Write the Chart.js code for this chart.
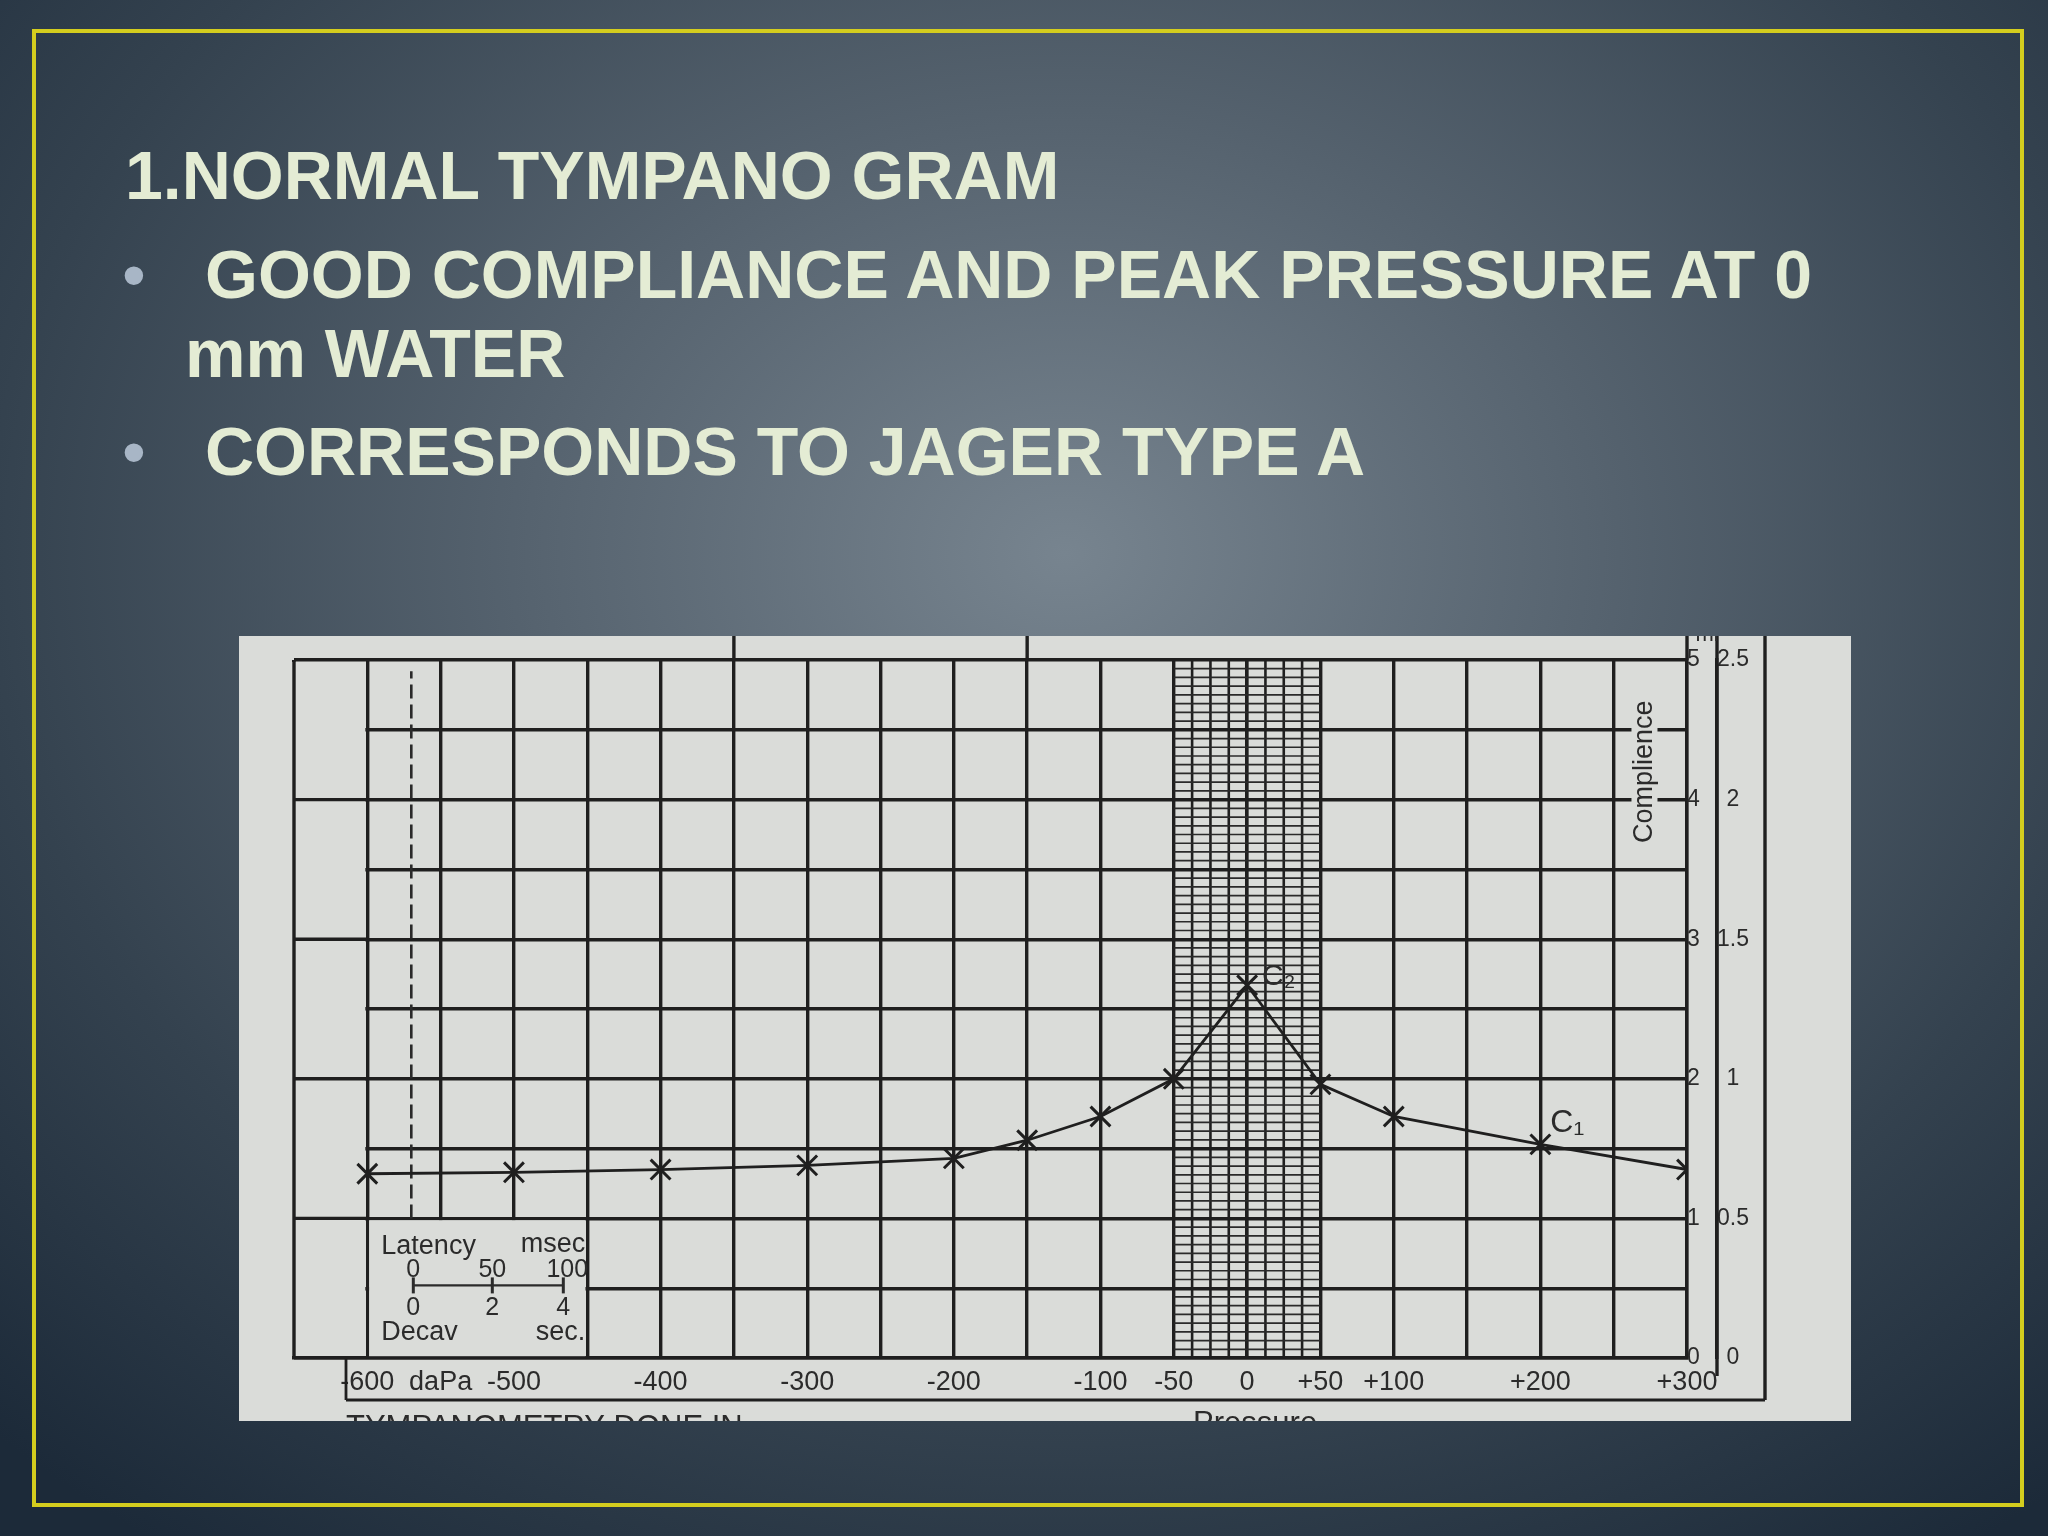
<!DOCTYPE html>
<html>
<head>
<meta charset="utf-8">
<title>Normal tympanogram</title>
<script src="https://cdn.jsdelivr.net/npm/chart.js@4.4.0/dist/chart.umd.min.js"></script>
<style>
  html, body { margin: 0; padding: 0; }
  body {
    width: 2048px; height: 1536px; position: relative; overflow: hidden;
    background: radial-gradient(ellipse 75% 80% at 52% 36%, #77848f 0%, #56636f 35%, #34424f 70%, #1c2a39 100%);
    font-family: "Liberation Sans", Arial, sans-serif;
  }
  .frame {
    position: absolute; left: 32px; top: 29px; width: 1992px; height: 1478px;
    box-sizing: border-box; border: 4px solid #d4cd1e;
  }
  .t {
    position: absolute; font-weight: bold; font-size: 68px; line-height: 1;
    color: #e4ecd4; white-space: nowrap;
  }
  .dot { color: #a8b6c6; font-weight: normal; }
  #wrap { position: absolute; left: 239px; top: 636px; width: 1612px; height: 785px; }
</style>
</head>
<body>
<div class="frame"></div>
<div class="t" style="left:125px; top:141px;">1.NORMAL TYMPANO GRAM</div>
<div class="t dot" style="left:122px; top:240px;">•</div>
<div class="t" style="left:205px; top:240px;">GOOD COMPLIANCE AND PEAK PRESSURE AT 0</div>
<div class="t" style="left:185px; top:319px;">mm WATER</div>
<div class="t dot" style="left:122px; top:417px;">•</div>
<div class="t" style="left:205px; top:417px;">CORRESPONDS TO JAGER TYPE A</div>

<div id="wrap"><canvas id="tymp"></canvas></div>

<script>
// tympanogram readings (pressure in daPa, compliance on the 0-5 scale)
const pressure = [-600, -500, -400, -300, -200, -150, -100, -50, 0, 50, 100, 200, 300];
const compliance = [1.32, 1.33, 1.35, 1.38, 1.43, 1.56, 1.73, 2.0, 2.67, 1.96, 1.73, 1.53, 1.35];

// printed labels under the grid
const tickValues = [-600, -550, -500, -400, -300, -200, -100, -50, 0, 50, 100, 200, 300];
const tickLabels = ['-600', 'daPa', '-500', '-400', '-300', '-200', '-100', '-50', '0', '+50', '+100', '+200', '+300'];

// C1 / C2 marks on the curve
const markAt = [0, 200];
const markNames = ['C\u2082', 'C\u2081'];

// dashed latency marker
const dashX = -570;
const dashY = [1, 4.92];

const PAPER = '#dadcd9';
const INK = '#1f1f1f';
const TXT = '#2b2b2b';
const GRID_W = 3.4;
const NARROW = '"Liberation Sans Narrow", "Arial Narrow", "Liberation Sans", Arial, sans-serif';

const paperMarks = {
  id: 'paperMarks',
  beforeDraw(chart) {
    const ctx = chart.ctx;
    ctx.save();
    ctx.fillStyle = PAPER;
    ctx.fillRect(0, 0, chart.width, chart.height);
    ctx.restore();
  },
  beforeDatasetsDraw(chart) {
    const { ctx, chartArea: a, scales: { x, y, y2 } } = chart;
    const line = (x1, y1, x2, y2_, w) => {
      ctx.lineWidth = w;
      ctx.beginPath(); ctx.moveTo(x1, y1); ctx.lineTo(x2, y2_); ctx.stroke();
    };
    ctx.save();
    ctx.strokeStyle = INK;

    // left margin column only keeps whole-unit lines
    const c0 = x.getPixelForValue(-650), c1 = x.getPixelForValue(-600);
    ctx.fillStyle = PAPER;
    ctx.fillRect(c0 - 4, a.top + 2, c1 - c0 + 2, a.bottom - a.top - 4);
    line(c0, a.top, c0, a.bottom, GRID_W);
    [1, 2, 3, 4].forEach(v => line(c0, y.getPixelForValue(v), c1, y.getPixelForValue(v), GRID_W));

    // latency / decay box
    const bx = c1, by = y.getPixelForValue(1), bx2 = x.getPixelForValue(-450), by2 = y.getPixelForValue(0);
    ctx.fillRect(bx + 1.8, by + 1.8, bx2 - bx - 3.6, by2 - by - 3.6);
    ctx.fillStyle = TXT;
    ctx.textBaseline = 'alphabetic';
    ctx.font = '27px ' + NARROW;
    ctx.textAlign = 'left';
    ctx.fillText('Latency', bx + 14, by + 36);
    ctx.fillText('Decav', bx + 14, by + 122);
    ctx.textAlign = 'right';
    ctx.fillText('msec', bx + 218, by + 34);
    ctx.fillText('sec.', bx + 218, by + 122);
    ctx.font = '25px ' + NARROW;
    ctx.textAlign = 'center';
    [['0', 46], ['50', 125], ['100', 200]].forEach(([s, dx]) => ctx.fillText(s, bx + dx, by + 59));
    [['0', 46], ['2', 125], ['4', 196]].forEach(([s, dx]) => ctx.fillText(s, bx + dx, by + 97));
    ctx.strokeStyle = TXT;
    line(bx + 46, by + 67, bx + 196, by + 67, 2.2);
    [46, 125, 196].forEach(dx => line(bx + dx, by + 59, bx + dx, by + 75, 3));
    ctx.strokeStyle = INK;

    // fine grid in the -50..+50 band
    const f0 = x.getPixelForValue(-50), f1 = x.getPixelForValue(50);
    for (let p = -37.5; p < 50; p += 12.5) {
      const px = x.getPixelForValue(p);
      line(px, a.top, px, a.bottom, 2.6);
    }
    ctx.strokeStyle = '#2a2a2a';
    for (let c = 0.0625; c < 5; c += 0.0625) {
      if (Math.abs(c * 2 - Math.round(c * 2)) < 1e-6) continue;
      const py = y.getPixelForValue(c);
      line(f0, py, f1, py, 1.7);
    }
    ctx.strokeStyle = INK;

    // lines running past the grid
    [-350, -150].forEach(p => { const px = x.getPixelForValue(p); line(px, 0, px, a.top, GRID_W); });
    line(a.right, 0, a.right, a.top, GRID_W);
    line(y2.left, 0, y2.left, a.bottom + 18, GRID_W);
    const boxBottom = a.bottom + 42;
    line(y2.right, 0, y2.right, boxBottom, GRID_W);
    line(107, a.bottom, 107, boxBottom, 2.8);
    line(107, boxBottom, y2.right, boxBottom, 2.8);

    // compliance caption
    const cx = x.getPixelForValue(271), cy = y.getPixelForValue(4.2);
    ctx.fillStyle = PAPER;
    ctx.fillRect(cx - 13, cy - 74, 26, 148);
    ctx.save();
    ctx.translate(cx, cy);
    ctx.rotate(-Math.PI / 2);
    ctx.fillStyle = TXT;
    ctx.font = '27px ' + NARROW;
    ctx.textAlign = 'center';
    ctx.textBaseline = 'middle';
    ctx.fillText('Complience', 0, 0);
    ctx.restore();

    // cut-off texts at the photo edges
    ctx.fillStyle = TXT;
    ctx.font = '22px ' + NARROW;
    ctx.textAlign = 'center';
    ctx.fillText('ml', y.left + 20, 5);
    ctx.font = '31px "Liberation Sans", Arial, sans-serif';
    ctx.fillText('Pressure', x.getPixelForValue(0) + 8, 797);
    ctx.textAlign = 'left';
    ctx.fillText('TYMPANOMETRY DONE IN', 107, 801);
    ctx.restore();
  },
  afterDatasetsDraw(chart) {
    const { ctx, scales: { x, y } } = chart;
    ctx.save();
    ctx.fillStyle = TXT;
    ctx.textAlign = 'left';
    markAt.forEach((p, i) => {
      const c = compliance[pressure.indexOf(p)];
      const px = x.getPixelForValue(p), py = y.getPixelForValue(c);
      ctx.font = (i === 0 ? '30px ' : '32px ') + NARROW;
      if (i === 0) ctx.fillText(markNames[i], px + 15, py);
      else ctx.fillText(markNames[i], px + 10, py - 12);
    });
    ctx.restore();
  }
};

const labelFont = { family: NARROW, size: 27 };
const sideFont = { family: NARROW, size: 23 };

new Chart(document.getElementById('tymp'), {
  type: 'line',
  data: {
    datasets: [
      {
        data: pressure.map((p, i) => ({ x: p, y: compliance[i] })),
        borderColor: INK,
        borderWidth: 2.8,
        pointStyle: 'crossRot',
        pointRadius: 14,
        pointBorderWidth: 3,
        pointBorderColor: INK,
        tension: 0,
        yAxisID: 'y'
      },
      {
        data: dashY.map(v => ({ x: dashX, y: v })),
        borderColor: '#2a2a2a',
        borderWidth: 2.6,
        borderDash: [14, 6],
        pointRadius: 0,
        yAxisID: 'y'
      }
    ]
  },
  options: {
    responsive: true,
    maintainAspectRatio: false,
    animation: false,
    layout: { padding: { left: 55, right: 86, top: 24, bottom: 0 } },
    plugins: { legend: { display: false }, tooltip: { enabled: false } },
    scales: {
      x: {
        type: 'linear', min: -650, max: 300,
        ticks: {
          stepSize: 50, autoSkip: false, maxRotation: 0, padding: 8,
          color: TXT, font: labelFont,
          callback: v => { const i = tickValues.indexOf(v); return i < 0 ? '' : tickLabels[i]; }
        },
        grid: { color: INK, lineWidth: GRID_W, drawTicks: false },
        border: { display: true, color: INK, width: GRID_W },
        afterFit: s => { s.height = 63; }
      },
      y: {
        position: 'right', min: 0, max: 5,
        ticks: {
          stepSize: 0.5, padding: 0, crossAlign: 'center',
          color: TXT, font: sideFont,
          callback: v => Number.isInteger(v) ? String(v) : ''
        },
        grid: { color: INK, lineWidth: GRID_W, drawTicks: false },
        border: { display: true, color: INK, width: GRID_W },
        afterFit: s => { s.width = 30; }
      },
      y2: {
        position: 'right', min: 0, max: 2.5,
        ticks: {
          stepSize: 0.5, padding: 0, crossAlign: 'center',
          color: TXT, font: sideFont,
          callback: v => String(Math.round(v * 10) / 10)
        },
        grid: { drawOnChartArea: false, drawTicks: false },
        border: { display: true, color: INK, width: GRID_W },
        afterFit: s => { s.width = 48; }
      }
    }
  },
  plugins: [paperMarks]
});
</script>
</body>
</html>
